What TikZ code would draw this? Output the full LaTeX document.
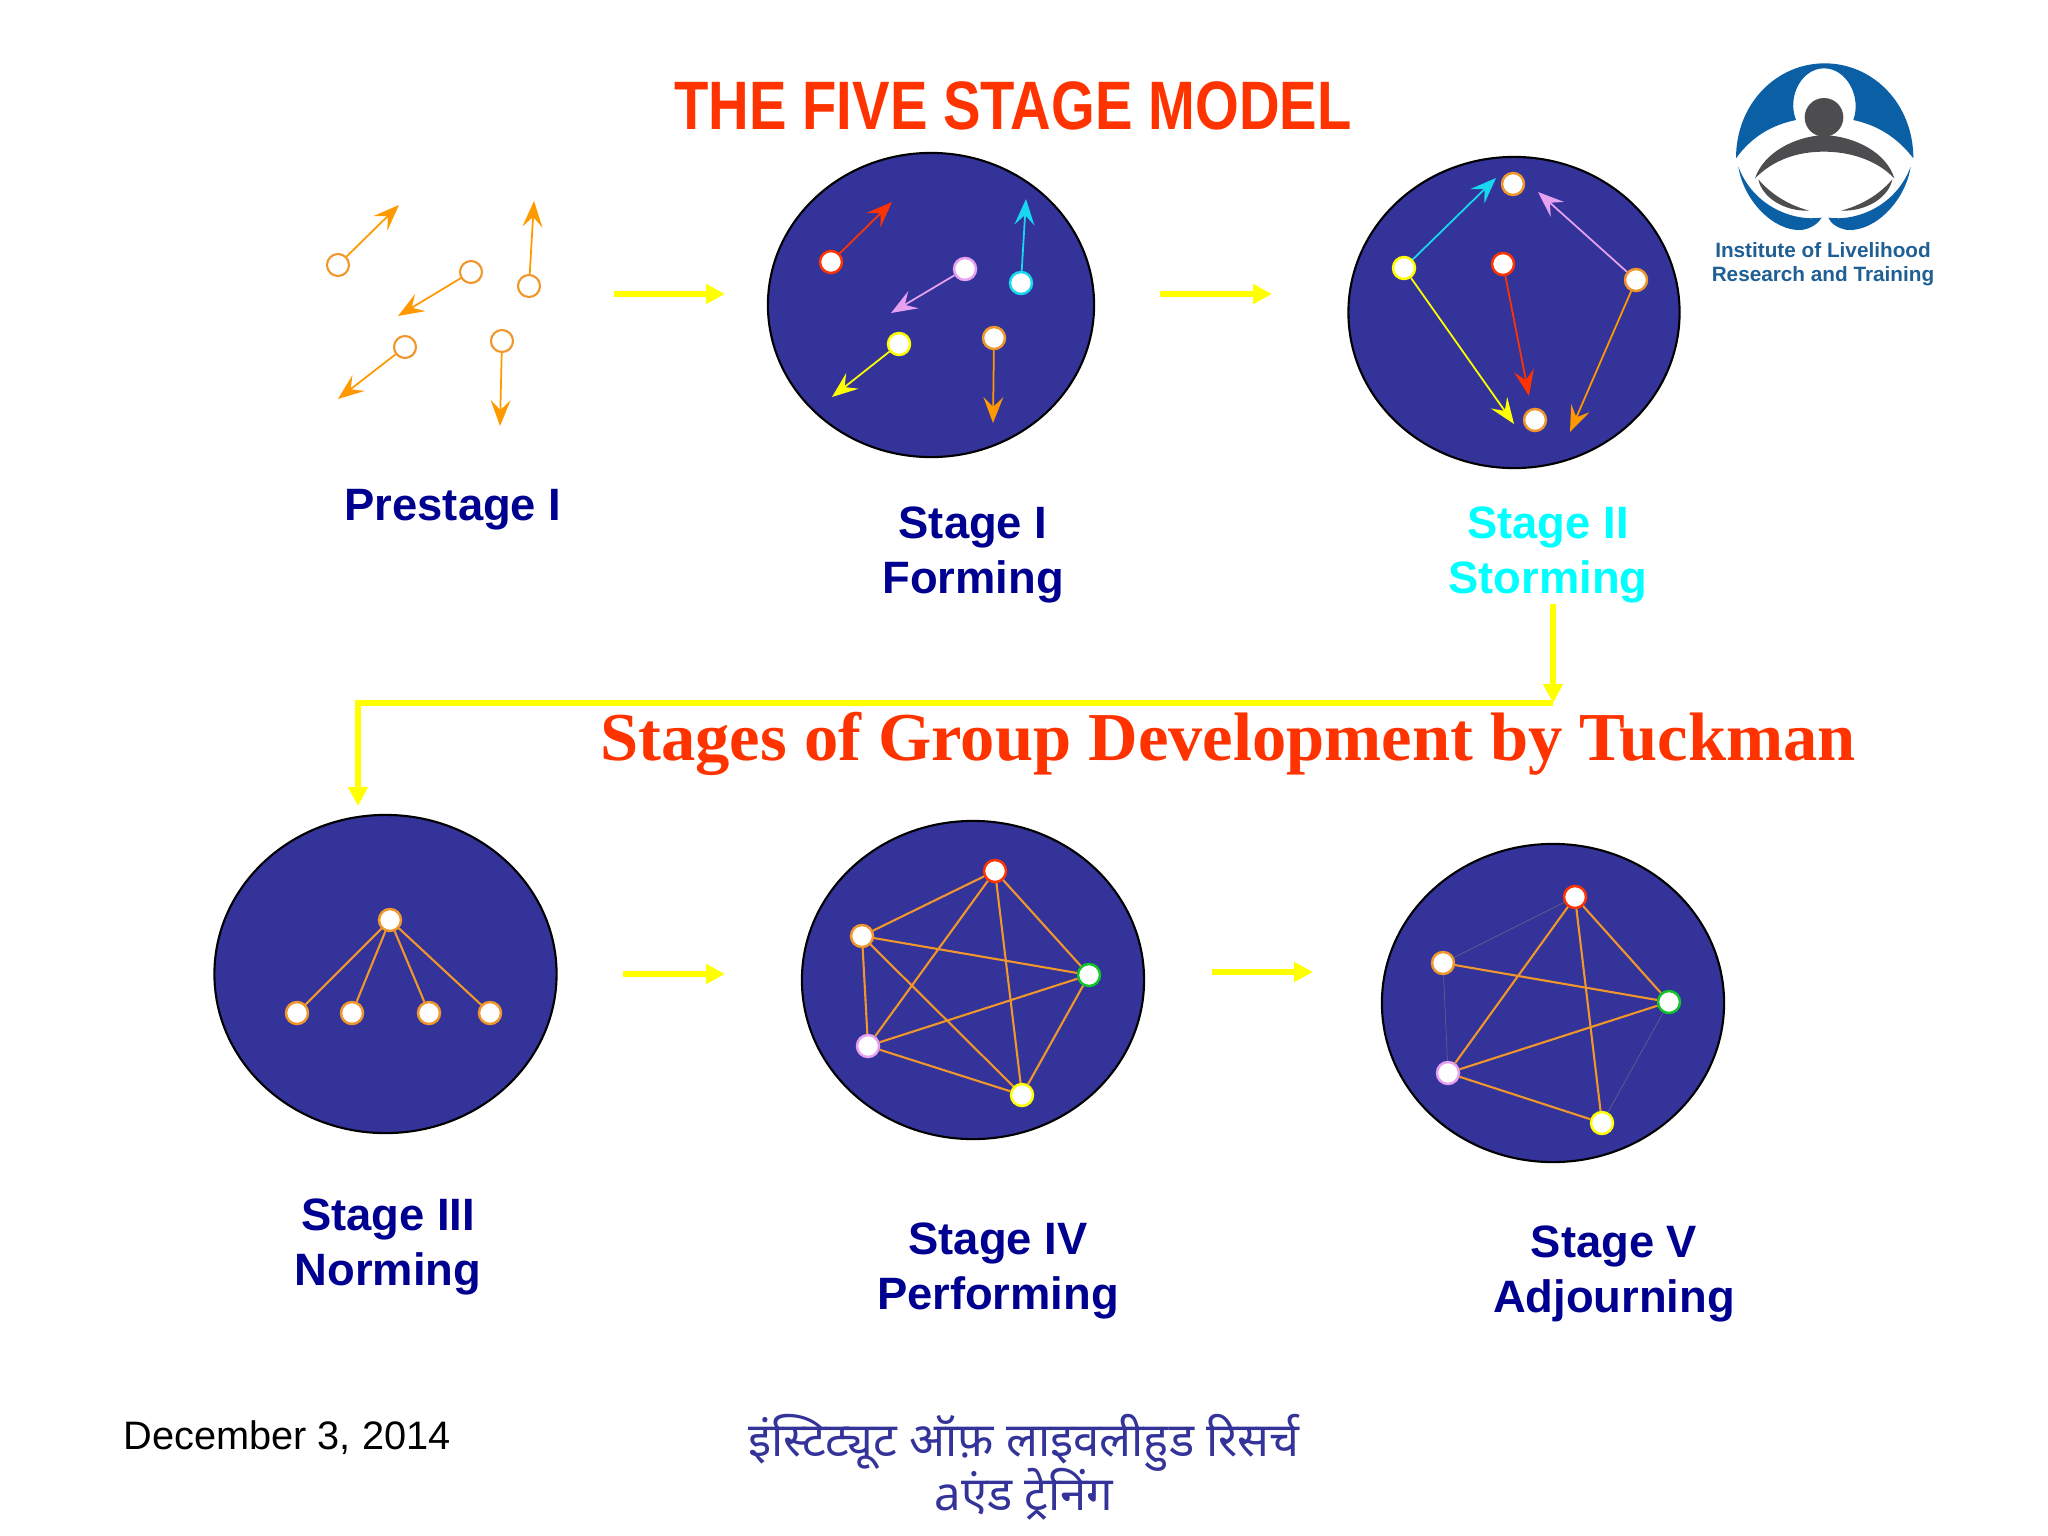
\documentclass[tikz,border=0pt]{standalone}
\usepackage{fontspec}
\setmainfont{Liberation Sans}
\newfontfamily\serifface{Liberation Serif}
\newfontfamily\hindiface[Script=Devanagari]{Noto Sans}
\usetikzlibrary{shapes.geometric, arrows.meta, positioning}
\definecolor{discfill}{HTML}{333399}
\definecolor{ringorange}{HTML}{F0962A}
\definecolor{tiporange}{HTML}{FF9900}
\definecolor{tipred}{HTML}{FF3300}
\definecolor{tipcyan}{HTML}{18D8F0}
\definecolor{tippink}{HTML}{E8A0F0}
\definecolor{ringgreen}{HTML}{11C42A}
\definecolor{hopyellow}{HTML}{FFFF00}
\definecolor{labelblue}{HTML}{000090}
\definecolor{labelcyan}{HTML}{00FFFF}
\definecolor{logoblue}{HTML}{0B5FA5}
\definecolor{logogray}{HTML}{4D4D4F}
\definecolor{logotext}{HTML}{1F5F94}
\tikzset{
  disc/.style    ={ellipse, draw=black, fill=discfill, line width=0.6pt, inner sep=0pt, outer sep=0pt},
  spot/.style    ={circle, draw=#1, fill=white, line width=0.7pt, minimum size=0.22cm, inner sep=0pt},
  hollow/.style  ={circle, draw=ringorange, line width=0.6pt, minimum size=0.22cm, inner sep=0pt},
  ptr/.style     ={draw=#1, line width=0.5pt, -{Stealth[length=2.6mm, width=2mm, inset=1mm, color=#1]}},
  link/.style    ={draw=ringorange, line width=0.6pt},
  faint/.style   ={draw=gray!70!discfill, line width=0.15pt},
  hop/.style     ={draw=hopyellow, line width=0.55mm, -{Triangle[length=1.9mm, width=1.9mm]}},
  caption/.style ={align=center, text=labelblue, inner sep=0pt,
                   font=\fontsize{12.9}{15.6}\selectfont\bfseries},
}
\begin{document}
\begin{tikzpicture}[x=0.01cm, y=-0.01cm]
  \useasboundingbox (0,0) rectangle (2048,1536);

  % headings
  \node[inner sep=0pt, text=tipred, xscale=0.82, transform shape,
        font=\fontsize{19.5}{22}\selectfont\bfseries] (title) at (1013,106) {THE FIVE STAGE MODEL};
  \node[inner sep=0pt, text=tipred, font=\fontsize{19.5}{22}\serifface\selectfont\bfseries] (subtitle) at (1228,744)
    {Stages of Group Development by Tuckman};

  % logo
  \begin{scope}[shift={(1680,40)}, scale=1/3]
    \fill[logoblue] (168,355) .. controls (168,190) and (290,70) .. (434,70)
      .. controls (578,70) and (700,190) .. (700,355)
      .. controls (650,290) and (590,255) .. (520,240)
      .. controls (545,170) and (500,85) .. (432,85)
      .. controls (365,85) and (320,170) .. (348,240)
      .. controls (275,255) and (215,290) .. (168,355) -- cycle;
    \fill[logoblue] (175,380) .. controls (190,480) and (280,575) .. (365,570)
      .. controls (395,565) and (415,550) .. (425,533)
      .. controls (340,545) and (220,500) .. (175,380) -- cycle;
    \fill[logoblue] (692,380) .. controls (677,480) and (587,575) .. (502,570)
      .. controls (472,565) and (452,550) .. (445,533)
      .. controls (527,545) and (647,500) .. (692,380) -- cycle;
    \fill[logogray] (432,232) circle (58);
    \fill[logogray] (225,415) .. controls (250,340) and (340,290) .. (432,285)
      .. controls (530,290) and (620,340) .. (643,415)
      .. controls (590,360) and (510,335) .. (432,335)
      .. controls (350,335) and (280,360) .. (225,415) -- cycle;
    \fill[logogray] (235,418) .. controls (245,470) and (310,515) .. (388,512)
      .. controls (330,497) and (275,465) .. (235,418) -- cycle;
    \fill[logogray] (637,418) .. controls (627,470) and (562,515) .. (482,512)
      .. controls (542,497) and (597,465) .. (637,418) -- cycle;
  \end{scope}
  \node[align=center, inner sep=0pt, text=logotext, font=\fontsize{5.9}{6.9}\selectfont\bfseries] (logotxt) at (1823,264)
    {Institute of Livelihood\\Research and Training};

  % prestage
  \node[hollow] (pa) at (338,265) {};
  \node[hollow] (pb) at (471,272) {};
  \node[hollow] (pc) at (529,286) {};
  \node[hollow] (pd) at (405,347) {};
  \node[hollow] (pe) at (502,341) {};
  \coordinate (pat) at (399,205);
  \coordinate (pbt) at (398,316);
  \coordinate (pct) at (534,201);
  \coordinate (pdt) at (338,399);
  \coordinate (pet) at (500,426);
  \draw[ptr=tiporange] (pa) -- (pat);
  \draw[ptr=tiporange] (pb) -- (pbt);
  \draw[ptr=tiporange] (pc) -- (pct);
  \draw[ptr=tiporange] (pd) -- (pdt);
  \draw[ptr=tiporange] (pe) -- (pet);
  \node[caption] (prelbl) at (453,510) {Prestage I};

  % stage I
  \node[disc, minimum width=3.26cm, minimum height=3.04cm] (forming) at (931,305) {};
  \node[spot=tipred] (fa) at (831,262) {};
  \node[spot=tippink] (fb) at (965,269) {};
  \node[spot=tipcyan] (fc) at (1021,283) {};
  \node[spot=hopyellow] (fd) at (899,344) {};
  \node[spot=ringorange] (fe) at (994,338) {};
  \coordinate (fat) at (892,202);
  \coordinate (fbt) at (891,313);
  \coordinate (fct) at (1026,199);
  \coordinate (fdt) at (832,397);
  \coordinate (fet) at (993,423);
  \draw[ptr=tipred] (fa) -- (fat);
  \draw[ptr=tippink] (fb) -- (fbt);
  \draw[ptr=tipcyan] (fc) -- (fct);
  \draw[ptr=hopyellow] (fd) -- (fdt);
  \draw[ptr=tiporange] (fe) -- (fet);
  \node[caption] (formlbl) at (973,555) {Stage I\\Forming};

  % stage II
  \node[disc, minimum width=3.31cm, minimum height=3.11cm] (storming) at (1514,312.5) {};
  \node[spot=ringorange] (sa) at (1513,184) {};
  \node[spot=hopyellow] (sb) at (1404,268) {};
  \node[spot=tipred] (sc) at (1503,264) {};
  \node[spot=ringorange] (sd) at (1636,280) {};
  \node[spot=ringorange] (se) at (1535,420) {};
  \coordinate (sbt) at (1496,178);
  \coordinate (sdt) at (1538,192);
  \coordinate (sct) at (1529,396);
  \coordinate (sbu) at (1514,424);
  \coordinate (sdu) at (1570,432);
  \draw[ptr=tipcyan] (sb) -- (sbt);
  \draw[ptr=tippink] (sd) -- (sdt);
  \draw[ptr=tipred] (sc) -- (sct);
  \draw[ptr=hopyellow] (sb) -- (sbu);
  \draw[ptr=tiporange] (sd) -- (sdu);
  \node[caption, text=labelcyan] (stormlbl) at (1548,555) {Stage II\\Storming};

  % stage III
  \node[disc, minimum width=3.42cm, minimum height=3.18cm] (norming) at (385.5,974) {};
  \node[spot=ringorange] (na) at (390,920) {};
  \node[spot=ringorange] (nb) at (297,1013) {};
  \node[spot=ringorange] (nc) at (352,1013) {};
  \node[spot=ringorange] (nd) at (429,1013) {};
  \node[spot=ringorange] (ne) at (490,1013) {};
  \draw[link] (na) -- (nb);
  \draw[link] (na) -- (nc);
  \draw[link] (na) -- (nd);
  \draw[link] (na) -- (ne);
  \node[caption] (normlbl) at (388,1247) {Stage III\\Norming};

  % stage IV
  \node[disc, minimum width=3.42cm, minimum height=3.18cm] (performing) at (973,980) {};
  \node[spot=tipred] (ra) at (995,871) {};
  \node[spot=ringorange] (rb) at (862,936) {};
  \node[spot=ringgreen] (rc) at (1089,975) {};
  \node[spot=tippink] (rd) at (868,1046) {};
  \node[spot=hopyellow] (re) at (1022,1095) {};
  \draw[link] (ra) -- (rb);
  \draw[link] (ra) -- (rc);
  \draw[link] (ra) -- (rd);
  \draw[link] (ra) -- (re);
  \draw[link] (rb) -- (rc);
  \draw[link] (rb) -- (rd);
  \draw[link] (rb) -- (re);
  \draw[link] (rc) -- (rd);
  \draw[link] (rc) -- (re);
  \draw[link] (rd) -- (re);
  \node[caption] (perflbl) at (998,1271) {Stage IV\\Performing};

  % stage V
  \node[disc, minimum width=3.42cm, minimum height=3.18cm] (adjourning) at (1553,1003) {};
  \node[spot=tipred] (va) at (1575,897) {};
  \node[spot=ringorange] (vb) at (1443,963) {};
  \node[spot=ringgreen] (vc) at (1669,1002) {};
  \node[spot=tippink] (vd) at (1448,1073) {};
  \node[spot=hopyellow] (ve) at (1602,1123) {};
  \draw[faint] (va) -- (vb);
  \draw[faint] (vb) -- (vd);
  \draw[faint] (vc) -- (ve);
  \draw[link] (va) -- (vc);
  \draw[link] (va) -- (vd);
  \draw[link] (va) -- (ve);
  \draw[link] (vb) -- (vc);
  \draw[link] (vc) -- (vd);
  \draw[link] (vd) -- (ve);
  \node[caption] (adjlbl) at (1614,1274) {Stage V\\Adjourning};

  % yellow arrows
  \coordinate (hopa) at (614,294);
  \coordinate (hopb) at (725,294);
  \coordinate (hopc) at (1160,294);
  \coordinate (hopd) at (1272,294);
  \coordinate (hope) at (623,974);
  \coordinate (hopf) at (725,974);
  \coordinate (hopg) at (1212,972);
  \coordinate (hoph) at (1313,972);
  \coordinate (turnr) at (1553,703);
  \coordinate (turnl) at (358,703);
  \coordinate (landing) at (358,806);
  \draw[hop] (hopa) -- (hopb);
  \draw[hop] (hopc) -- (hopd);
  \draw[hop] (hope) -- (hopf);
  \draw[hop] (hopg) -- (hoph);
  \draw[hop] (stormlbl.south -| turnr) -- (turnr);
  \draw[hop] (turnr) -- (turnl) -- (landing);

  % footer
  \node[inner sep=0pt, text=black, font=\fontsize{11.3}{13}\selectfont] (datelbl) at (287,1438) {December 3, 2014};
  \node[align=center, inner sep=0pt, text=discfill, font=\fontsize{13.4}{13}\hindiface\selectfont] (hindilbl) at (1024,1467)
    {इंस्टिट्यूट ऑफ़ लाइवलीहुड रिसर्च\\[-1.9pt]aएंड ट्रेनिंग};
\end{tikzpicture}
\end{document}
